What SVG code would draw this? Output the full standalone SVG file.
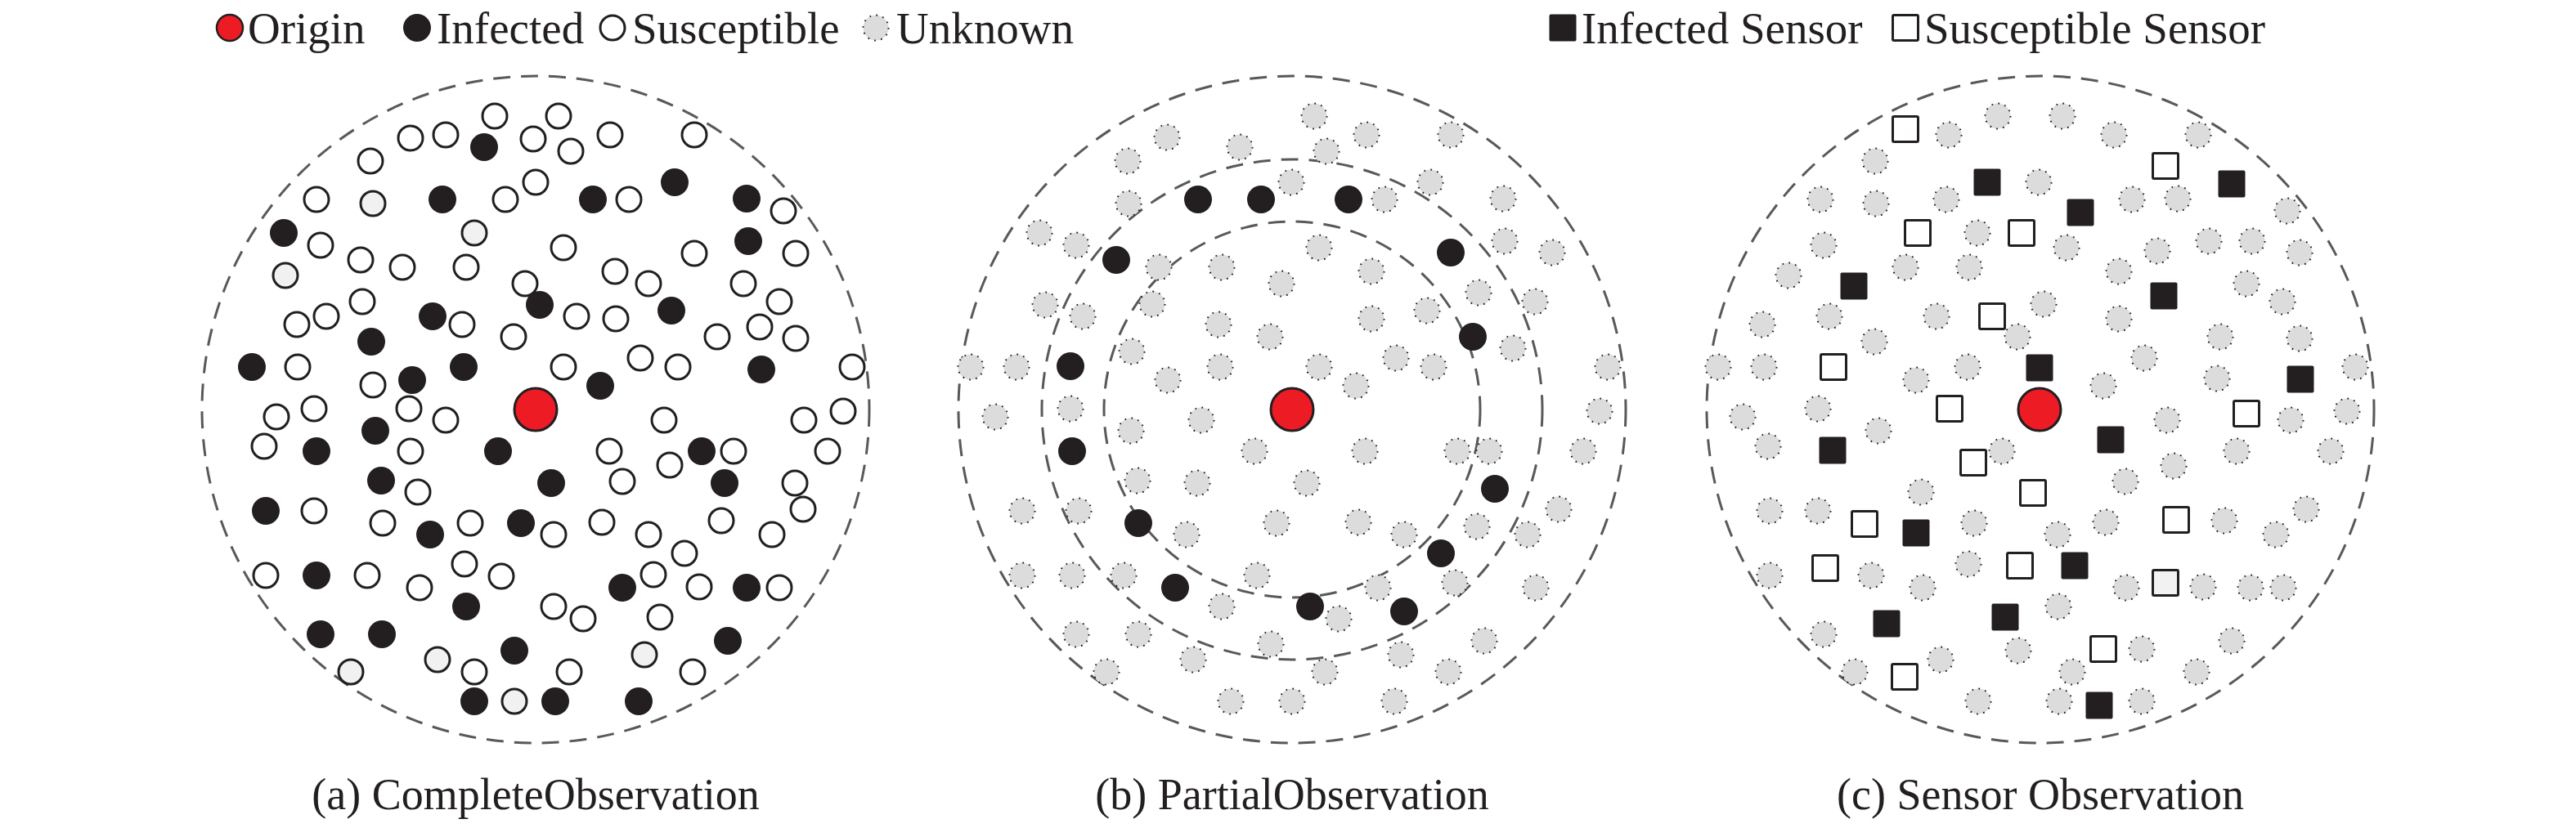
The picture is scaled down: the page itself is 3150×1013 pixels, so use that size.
<svg xmlns="http://www.w3.org/2000/svg" xmlns:xlink="http://www.w3.org/1999/xlink" width="3150" height="1013" viewBox="0 0 3150 1013">
<style>
.t{font-family:"Liberation Serif","Times New Roman",serif;fill:#231f20}
.lg{font-size:55px}
.cap{font-size:54px;text-anchor:middle}
.ring{fill:none;stroke:#58595b;stroke-width:3;stroke-dasharray:21 13}
</style>
<defs>
<circle id="o" r="15" fill="#fff" stroke="#231f20" stroke-width="3"/>
<circle id="g" r="15" fill="#f1f1f1" stroke="#231f20" stroke-width="3"/>
<circle id="f" r="17" fill="#231f20"/>
<circle id="u" r="15.5" fill="#dcdcdc" stroke="#231f20" stroke-width="2" stroke-dasharray="1.8 6.3"/>
<circle id="r" r="26" fill="#ed1c24" stroke="#231f20" stroke-width="3"/>
<circle id="rl" r="16" fill="#ed1c24" stroke="#231f20" stroke-width="2.5"/>
<rect id="sf" x="-16.5" y="-16.5" width="33" height="33" rx="2" fill="#231f20"/>
<rect id="so" x="-15.5" y="-15.5" width="31" height="31" rx="1.5" fill="#fff" stroke="#231f20" stroke-width="3"/>
<rect id="sg" x="-15.5" y="-15.5" width="31" height="31" rx="1.5" fill="#f2f2f2" stroke="#231f20" stroke-width="3"/>
</defs>
<rect width="3150" height="1013" fill="#fff"/>

<g id="legend">
<use href="#rl" x="281" y="34"/>
<text class="t lg" x="303" y="53">Origin</text>
<use href="#f" x="510" y="34"/>
<text class="t lg" x="534" y="53">Infected</text>
<use href="#o" x="749" y="34"/>
<text class="t lg" x="773" y="53">Susceptible</text>
<use href="#u" x="1071" y="34"/>
<text class="t lg" x="1096" y="53">Unknown</text>
<use href="#sf" x="1911" y="34"/>
<text class="t lg" x="1934" y="53">Infected Sensor</text>
<use href="#so" x="2330" y="34"/>
<text class="t lg" x="2353" y="53">Susceptible Sensor</text>
</g>

<g id="panel-a">
<circle class="ring" cx="655" cy="501" r="408"/>
<g id="a-open">
<use href="#o" x="605" y="142"/><use href="#o" x="502" y="169"/><use href="#o" x="545" y="165"/><use href="#o" x="652" y="170"/><use href="#o" x="453" y="197"/><use href="#o" x="655" y="223"/><use href="#o" x="387" y="244"/><use href="#o" x="618" y="244"/><use href="#o" x="392" y="300"/><use href="#o" x="441" y="318"/><use href="#o" x="492" y="327"/><use href="#o" x="570" y="327"/><use href="#o" x="642" y="347"/><use href="#o" x="443" y="369"/><use href="#o" x="399" y="387"/><use href="#o" x="363" y="397"/><use href="#o" x="565" y="397"/><use href="#o" x="628" y="412"/><use href="#o" x="364" y="449"/><use href="#o" x="456" y="471"/><use href="#o" x="384" y="500"/><use href="#o" x="338" y="510"/><use href="#o" x="500" y="500"/><use href="#o" x="545" y="514"/>
<use href="#o" x="683" y="142"/><use href="#o" x="746" y="165"/><use href="#o" x="698" y="185"/><use href="#o" x="849" y="165"/><use href="#o" x="769" y="244"/><use href="#o" x="958" y="258"/><use href="#o" x="689" y="303"/><use href="#o" x="849" y="310"/><use href="#o" x="973" y="310"/><use href="#o" x="752" y="332"/><use href="#o" x="793" y="347"/><use href="#o" x="909" y="347"/><use href="#o" x="953" y="369"/><use href="#o" x="705" y="387"/><use href="#o" x="753" y="390"/><use href="#o" x="929" y="400"/><use href="#o" x="877" y="412"/><use href="#o" x="973" y="414"/><use href="#o" x="689" y="449"/><use href="#o" x="783" y="438"/><use href="#o" x="829" y="449"/><use href="#o" x="1042" y="449"/><use href="#o" x="1031" y="503"/><use href="#o" x="812" y="514"/><use href="#o" x="983" y="514"/>
<use href="#o" x="323" y="546"/><use href="#o" x="502" y="552"/><use href="#o" x="511" y="602"/><use href="#o" x="384" y="625"/><use href="#o" x="468" y="640"/><use href="#o" x="575" y="640"/><use href="#o" x="325" y="704"/><use href="#o" x="449" y="704"/><use href="#o" x="513" y="719"/><use href="#o" x="568" y="690"/><use href="#o" x="613" y="705"/><use href="#o" x="580" y="822"/>
<use href="#o" x="745" y="552"/><use href="#o" x="897" y="552"/><use href="#o" x="1012" y="552"/><use href="#o" x="819" y="569"/><use href="#o" x="761" y="589"/><use href="#o" x="972" y="591"/><use href="#o" x="982" y="623"/><use href="#o" x="736" y="639"/><use href="#o" x="677" y="654"/><use href="#o" x="793" y="654"/><use href="#o" x="882" y="637"/><use href="#o" x="944" y="654"/><use href="#o" x="837" y="677"/><use href="#o" x="799" y="703"/><use href="#o" x="855" y="718"/><use href="#o" x="953" y="719"/><use href="#o" x="677" y="742"/><use href="#o" x="713" y="757"/><use href="#o" x="807" y="755"/><use href="#o" x="696" y="822"/><use href="#o" x="847" y="822"/>
<use href="#g" x="456" y="249"/><use href="#g" x="580" y="285"/><use href="#g" x="349" y="337"/><use href="#g" x="535" y="807"/><use href="#g" x="429" y="822"/><use href="#g" x="629" y="858"/><use href="#g" x="788" y="801"/>
</g>
<g id="a-infected">
<use href="#f" x="592" y="180"/><use href="#f" x="541" y="244"/><use href="#f" x="347" y="285"/><use href="#f" x="660" y="373"/><use href="#f" x="529" y="387"/><use href="#f" x="454" y="418"/><use href="#f" x="308" y="449"/><use href="#f" x="567" y="449"/><use href="#f" x="504" y="465"/>
<use href="#f" x="825" y="223"/><use href="#f" x="725" y="244"/><use href="#f" x="913" y="243"/><use href="#f" x="915" y="295"/><use href="#f" x="821" y="380"/><use href="#f" x="931" y="452"/><use href="#f" x="734" y="472"/>
<use href="#f" x="459" y="527"/><use href="#f" x="387" y="552"/><use href="#f" x="609" y="552"/><use href="#f" x="466" y="588"/><use href="#f" x="674" y="591"/><use href="#f" x="325" y="625"/><use href="#f" x="526" y="654"/><use href="#f" x="637" y="640"/><use href="#f" x="387" y="704"/><use href="#f" x="570" y="742"/><use href="#f" x="392" y="776"/><use href="#f" x="467" y="776"/><use href="#f" x="629" y="796"/><use href="#f" x="580" y="858"/>
<use href="#f" x="858" y="552"/><use href="#f" x="886" y="591"/><use href="#f" x="761" y="719"/><use href="#f" x="913" y="719"/><use href="#f" x="890" y="784"/><use href="#f" x="679" y="858"/><use href="#f" x="781" y="858"/>
</g>
<use href="#r" x="655" y="501"/>
</g>

<g id="panel-b">
<circle class="ring" cx="1580" cy="501" r="408"/>
<circle class="ring" cx="1580" cy="501" r="306"/>
<circle class="ring" cx="1580" cy="501" r="230"/>
<g id="b-unknown">
<use href="#u" x="1427" y="168"/><use href="#u" x="1516" y="180"/><use href="#u" x="1379" y="197"/><use href="#u" x="1579" y="223"/><use href="#u" x="1380" y="249"/><use href="#u" x="1271" y="285"/><use href="#u" x="1316" y="300"/><use href="#u" x="1417" y="327"/><use href="#u" x="1494" y="327"/><use href="#u" x="1567" y="347"/><use href="#u" x="1278" y="373"/><use href="#u" x="1324" y="387"/><use href="#u" x="1409" y="372"/><use href="#u" x="1490" y="397"/><use href="#u" x="1553" y="412"/><use href="#u" x="1384" y="430"/><use href="#u" x="1187" y="449"/><use href="#u" x="1243" y="449"/><use href="#u" x="1492" y="449"/><use href="#u" x="1428" y="465"/><use href="#u" x="1217" y="510"/><use href="#u" x="1309" y="500"/><use href="#u" x="1469" y="514"/>
<use href="#u" x="1607" y="142"/><use href="#u" x="1671" y="165"/><use href="#u" x="1622" y="185"/><use href="#u" x="1774" y="165"/><use href="#u" x="1749" y="223"/><use href="#u" x="1693" y="244"/><use href="#u" x="1838" y="243"/><use href="#u" x="1613" y="303"/><use href="#u" x="1840" y="295"/><use href="#u" x="1898" y="309"/><use href="#u" x="1677" y="332"/><use href="#u" x="1808" y="358"/><use href="#u" x="1877" y="369"/><use href="#u" x="1745" y="380"/><use href="#u" x="1677" y="390"/><use href="#u" x="1850" y="426"/><use href="#u" x="1613" y="449"/><use href="#u" x="1707" y="438"/><use href="#u" x="1753" y="449"/><use href="#u" x="1966" y="449"/><use href="#u" x="1658" y="472"/><use href="#u" x="1956" y="503"/>
<use href="#u" x="1383" y="527"/><use href="#u" x="1534" y="552"/><use href="#u" x="1598" y="591"/><use href="#u" x="1391" y="588"/><use href="#u" x="1464" y="591"/><use href="#u" x="1250" y="625"/><use href="#u" x="1319" y="625"/><use href="#u" x="1451" y="654"/><use href="#u" x="1561" y="640"/><use href="#u" x="1250" y="704"/><use href="#u" x="1311" y="704"/><use href="#u" x="1374" y="704"/><use href="#u" x="1537" y="704"/><use href="#u" x="1494" y="742"/><use href="#u" x="1316" y="776"/><use href="#u" x="1392" y="776"/><use href="#u" x="1459" y="807"/><use href="#u" x="1554" y="788"/><use href="#u" x="1353" y="822"/><use href="#u" x="1505" y="858"/><use href="#u" x="1580" y="858"/>
<use href="#u" x="1669" y="552"/><use href="#u" x="1782" y="552"/><use href="#u" x="1821" y="552"/><use href="#u" x="1936" y="552"/><use href="#u" x="1906" y="623"/><use href="#u" x="1661" y="639"/><use href="#u" x="1717" y="654"/><use href="#u" x="1806" y="644"/><use href="#u" x="1868" y="654"/><use href="#u" x="1779" y="713"/><use href="#u" x="1685" y="719"/><use href="#u" x="1878" y="719"/><use href="#u" x="1637" y="757"/><use href="#u" x="1815" y="784"/><use href="#u" x="1713" y="801"/><use href="#u" x="1620" y="822"/><use href="#u" x="1771" y="822"/><use href="#u" x="1705" y="858"/>
</g>
<g id="b-infected">
<use href="#f" x="1465" y="244"/><use href="#f" x="1542" y="244"/><use href="#f" x="1365" y="318"/><use href="#f" x="1309" y="448"/><use href="#f" x="1649" y="244"/><use href="#f" x="1774" y="309"/><use href="#f" x="1801" y="412"/><use href="#f" x="1311" y="552"/><use href="#f" x="1392" y="640"/><use href="#f" x="1437" y="719"/><use href="#f" x="1828" y="598"/><use href="#f" x="1762" y="677"/><use href="#f" x="1602" y="742"/><use href="#f" x="1717" y="748"/>
</g>
<use href="#r" x="1580" y="501"/>
</g>

<g id="panel-c">
<circle class="ring" cx="2495" cy="501" r="408"/>
<g id="c-unknown">
<use href="#u" x="2383" y="165"/><use href="#u" x="2443" y="142"/><use href="#u" x="2293" y="197"/><use href="#u" x="2493" y="223"/><use href="#u" x="2226" y="244"/><use href="#u" x="2294" y="249"/><use href="#u" x="2380" y="244"/><use href="#u" x="2418" y="285"/><use href="#u" x="2230" y="300"/><use href="#u" x="2187" y="337"/><use href="#u" x="2330" y="327"/><use href="#u" x="2408" y="327"/><use href="#u" x="2499" y="372"/><use href="#u" x="2155" y="397"/><use href="#u" x="2237" y="387"/><use href="#u" x="2368" y="387"/><use href="#u" x="2467" y="412"/><use href="#u" x="2292" y="418"/><use href="#u" x="2101" y="449"/><use href="#u" x="2157" y="449"/><use href="#u" x="2343" y="465"/><use href="#u" x="2406" y="449"/><use href="#u" x="2131" y="510"/><use href="#u" x="2223" y="500"/>
<use href="#u" x="2522" y="142"/><use href="#u" x="2585" y="165"/><use href="#u" x="2688" y="165"/><use href="#u" x="2607" y="244"/><use href="#u" x="2663" y="243"/><use href="#u" x="2797" y="258"/><use href="#u" x="2527" y="303"/><use href="#u" x="2638" y="307"/><use href="#u" x="2701" y="295"/><use href="#u" x="2754" y="295"/><use href="#u" x="2812" y="309"/><use href="#u" x="2591" y="332"/><use href="#u" x="2747" y="347"/><use href="#u" x="2791" y="369"/><use href="#u" x="2591" y="390"/><use href="#u" x="2715" y="412"/><use href="#u" x="2812" y="414"/><use href="#u" x="2622" y="438"/><use href="#u" x="2711" y="463"/><use href="#u" x="2880" y="449"/><use href="#u" x="2572" y="472"/><use href="#u" x="2650" y="514"/><use href="#u" x="2801" y="514"/><use href="#u" x="2870" y="503"/>
<use href="#u" x="2297" y="527"/><use href="#u" x="2162" y="546"/><use href="#u" x="2448" y="552"/><use href="#u" x="2349" y="602"/><use href="#u" x="2164" y="625"/><use href="#u" x="2223" y="625"/><use href="#u" x="2414" y="640"/><use href="#u" x="2164" y="704"/><use href="#u" x="2288" y="704"/><use href="#u" x="2351" y="719"/><use href="#u" x="2407" y="690"/><use href="#u" x="2230" y="776"/><use href="#u" x="2373" y="807"/><use href="#u" x="2468" y="796"/><use href="#u" x="2268" y="822"/><use href="#u" x="2419" y="858"/>
<use href="#u" x="2735" y="552"/><use href="#u" x="2850" y="552"/><use href="#u" x="2658" y="570"/><use href="#u" x="2599" y="589"/><use href="#u" x="2820" y="623"/><use href="#u" x="2516" y="654"/><use href="#u" x="2575" y="639"/><use href="#u" x="2720" y="637"/><use href="#u" x="2783" y="654"/><use href="#u" x="2600" y="719"/><use href="#u" x="2694" y="718"/><use href="#u" x="2752" y="719"/><use href="#u" x="2792" y="719"/><use href="#u" x="2517" y="742"/><use href="#u" x="2729" y="784"/><use href="#u" x="2619" y="794"/><use href="#u" x="2534" y="822"/><use href="#u" x="2686" y="822"/><use href="#u" x="2518" y="858"/><use href="#u" x="2619" y="858"/>
</g>
<g id="c-infected-sensors">
<use href="#sf" x="2430" y="223"/><use href="#sf" x="2267" y="350"/><use href="#sf" x="2494" y="450"/><use href="#sf" x="2729" y="225"/><use href="#sf" x="2544" y="260"/><use href="#sf" x="2646" y="362"/><use href="#sf" x="2813" y="464"/><use href="#sf" x="2241" y="551"/><use href="#sf" x="2343" y="652"/><use href="#sf" x="2307" y="763"/><use href="#sf" x="2452" y="755"/><use href="#sf" x="2581" y="538"/><use href="#sf" x="2537" y="692"/><use href="#sf" x="2567" y="863"/>
</g>
<g id="c-susceptible-sensors">
<use href="#so" x="2330" y="158"/><use href="#so" x="2345" y="285"/><use href="#so" x="2472" y="285"/><use href="#so" x="2436" y="387"/><use href="#so" x="2242" y="449"/><use href="#so" x="2384" y="500"/><use href="#so" x="2648" y="203"/><use href="#so" x="2747" y="506"/><use href="#so" x="2413" y="566"/><use href="#so" x="2486" y="603"/><use href="#so" x="2280" y="641"/><use href="#so" x="2232" y="695"/><use href="#so" x="2470" y="692"/><use href="#so" x="2329" y="828"/><use href="#so" x="2661" y="636"/><use href="#so" x="2572" y="794"/><use href="#sg" x="2648" y="713"/>
</g>
<use href="#r" x="2494" y="501"/>
</g>

<g id="captions">
<text class="t cap" x="655" y="990">(a) CompleteObservation</text>
<text class="t cap" x="1580" y="990">(b) PartialObservation</text>
<text class="t cap" x="2495" y="990">(c) Sensor Observation</text>
</g>
</svg>
